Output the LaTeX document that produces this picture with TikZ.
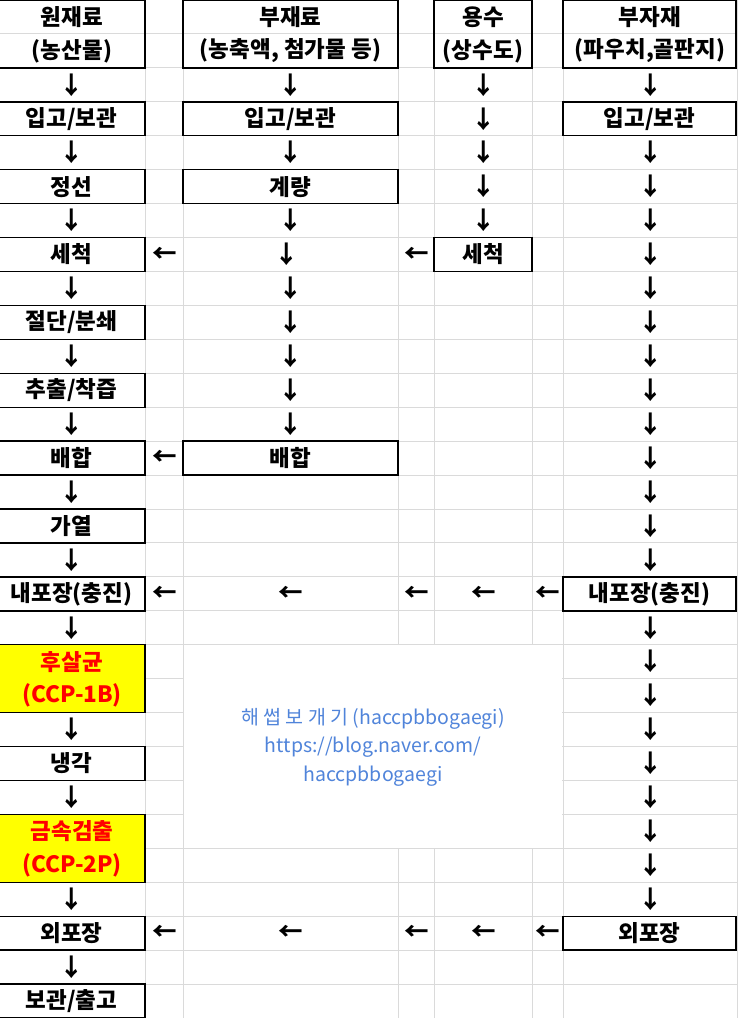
\documentclass[tikz,border=0pt]{standalone}
\usepackage{fontspec}
\newfontfamily\kr{Noto Sans CJK KR}
\definecolor{gridgray}{RGB}{218,218,218}
\definecolor{wmblue}{RGB}{80,132,218}
\definecolor{ccpyellow}{RGB}{255,255,0}
\definecolor{ccpred}{RGB}{255,0,0}
\def\rh{33.933}
\begin{document}
\begin{tikzpicture}[x=1pt,y=-1pt,
  every node/.style={inner sep=0pt, outer sep=0pt},
  lbl/.style={font=\kr\bfseries\fontsize{22.5}{24}\selectfont, text=black},
  ccptxt/.style={font=\kr\bfseries\fontsize{22.5}{24}\selectfont, text=ccpred},
  arr/.style={font=\kr\bfseries\fontsize{24.5}{26}\selectfont, text=black},
  cellbox/.style={draw=black, line width=1.4pt, minimum height=33.93pt, fill=white},
  colA/.style={cellbox, minimum width=147pt},
  colC/.style={cellbox, minimum width=215pt},
  colE/.style={cellbox, minimum width=98pt},
  colG/.style={cellbox, minimum width=173pt},
  twin/.style={minimum height=67.87pt, fill=none},
  ccpbox/.style={colA, minimum height=67.87pt, fill=ccpyellow},
  wm/.style={font=\kr\fontsize{19.5}{21}\selectfont, text=wmblue},
  gridline/.style={draw=gridgray, line width=1pt}]
\useasboundingbox (0,0) rectangle (738,1018);
\clip (0,0) rectangle (738,1018);
% spreadsheet grid
\foreach \x in {145,183,398,434,532,563,737.5}
  \draw[gridline] (\x,0) -- (\x,1018);
\foreach \r in {1,...,29}
  \draw[gridline] (0,{\r*\rh}) -- (738,{\r*\rh});
% blank watermark area
\fill[white] (183.6,{19*\rh+0.6}) rectangle (562.4,{25*\rh-0.6});
% header boxes
\node[colA, twin] (hA) at (71.5,{\rh}) {};
\node[colC, twin] (hC) at (290.5,{\rh}) {};
\node[colE, twin] (hE) at (483,{\rh}) {};
\node[colG, twin] (hG) at (649.5,{\rh}) {};
\node[lbl] (hA1) at (72,{0.5*\rh}) {원재료};
\node[lbl] (hA2) at (72,{1.5*\rh}) {(농산물)};
\node[lbl] (hC1) at (290.5,{0.5*\rh}) {부재료};
\node[lbl] (hC2) at (290.5,{1.5*\rh}) {(농축액, 첨가물 등)};
\node[lbl] (hE1) at (483,{0.5*\rh}) {용수};
\node[lbl] (hE2) at (483,{1.5*\rh}) {(상수도)};
\node[lbl] (hG1) at (650,{0.5*\rh}) {부자재};
\node[lbl] (hG2) at (650,{1.5*\rh}) {(파우치,골판지)};
% column A steps
\node[colA, lbl] (a4) at (71.5,{3.5*\rh}) {입고/보관};
\node[colA, lbl] (a6) at (71.5,{5.5*\rh}) {정선};
\node[colA, lbl] (a8) at (71.5,{7.5*\rh}) {세척};
\node[colA, lbl] (a10) at (71.5,{9.5*\rh}) {절단/분쇄};
\node[colA, lbl] (a12) at (71.5,{11.5*\rh}) {추출/착즙};
\node[colA, lbl] (a14) at (71.5,{13.5*\rh}) {배합};
\node[colA, lbl] (a16) at (71.5,{15.5*\rh}) {가열};
\node[colA, lbl] (a18) at (71.5,{17.5*\rh}) {내포장(충진)};
\node[ccpbox] (a20) at (71.5,{20*\rh}) {};
\node[ccptxt] (a20t) at (72,{19.5*\rh}) {후살균};
\node[ccptxt] (a21t) at (72,{20.5*\rh}) {(CCP-1B)};
\node[colA, lbl] (a23) at (71.5,{22.5*\rh}) {냉각};
\node[ccpbox] (a25) at (71.5,{25*\rh}) {};
\node[ccptxt] (a25t) at (72,{24.5*\rh}) {금속검출};
\node[ccptxt] (a26t) at (72,{25.5*\rh}) {(CCP-2P)};
\node[colA, lbl] (a28) at (71.5,{27.5*\rh}) {외포장};
\node[colA, lbl] (a30) at (71.5,{29.5*\rh}) {보관/출고};
% column C steps
\node[colC, lbl] (c4) at (290.5,{3.5*\rh}) {입고/보관};
\node[colC, lbl] (c6) at (290.5,{5.5*\rh}) {계량};
\node[colC, lbl] (c14) at (290.5,{13.5*\rh}) {배합};
% column E steps
\node[colE, lbl] (e8) at (483,{7.5*\rh}) {세척};
% column G steps
\node[colG, lbl] (g4) at (649.5,{3.5*\rh}) {입고/보관};
\node[colG, lbl] (g18) at (649.5,{17.5*\rh}) {내포장(충진)};
\node[colG, lbl] (g28) at (649.5,{27.5*\rh}) {외포장};
% down arrows
\foreach \r in {3,5,7,9,11,13,15,17,19,22,24,27,29}
  \node[arr] (dA\r) at (72,{(\r-0.5)*\rh}) {↓};
\foreach \r in {3,5,7,9,10,11,12,13}
  \node[arr] (dC\r) at (291,{(\r-0.5)*\rh}) {↓};
\node[arr] (dC8) at (287,{7.5*\rh}) {↓};
\foreach \r in {3,4,5,6,7}
  \node[arr] (dE\r) at (484,{(\r-0.5)*\rh}) {↓};
\foreach \r in {3,5,6,7,8,9,10,11,12,13,14,15,16,17,19,20,21,22,23,24,25,26,27}
  \node[arr] (dG\r) at (651,{(\r-0.5)*\rh}) {↓};
% left arrows
\foreach \r in {8,14,18,28}
  \node[arr] (lB\r) at (165,{(\r-0.5)*\rh}) {←};
\foreach \r in {18,28}
  \node[arr] (lC\r) at (291,{(\r-0.5)*\rh}) {←};
\foreach \r in {8,18,28}
  \node[arr] (lD\r) at (417,{(\r-0.5)*\rh}) {←};
\foreach \r in {18,28}
  \node[arr] (lE\r) at (484,{(\r-0.5)*\rh}) {←};
\foreach \r in {18,28}
  \node[arr] (lF\r) at (548,{(\r-0.5)*\rh}) {←};
% watermark
\node[wm] (wm1) at (373,719) {해 썹 보 개 기 (haccpbbogaegi)};
\node[wm] (wm2) at (373,747.5) {https://blog.naver.com/};
\node[wm] (wm3) at (373,776) {haccpbbogaegi};
\end{tikzpicture}
\end{document}
